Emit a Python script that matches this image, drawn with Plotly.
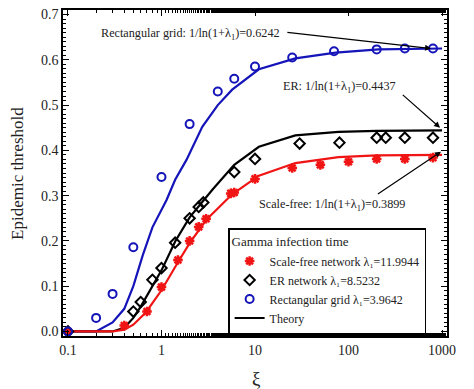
import plotly.graph_objects as go

# ---- data ----
rg_x = [0.1, 0.2, 0.3, 0.5, 1, 2, 4, 6, 10, 25, 70, 200, 400, 800]
rg_y = [0.0, 0.03, 0.083, 0.186, 0.341, 0.458, 0.530, 0.558, 0.585, 0.605, 0.619, 0.623, 0.625, 0.625]

er_x = [0.1, 0.5, 0.6, 0.8, 1, 1.4, 2, 2.5, 2.8, 6, 10, 30, 80, 200, 250, 400, 800]
er_y = [0.0, 0.044, 0.065, 0.114, 0.140, 0.196, 0.250, 0.275, 0.285, 0.352, 0.381, 0.415, 0.417, 0.428, 0.428, 0.428, 0.428]

sf_x = [0.1, 0.4, 0.7, 1, 1.5, 2, 2.5, 3, 5.5, 6, 10, 25, 50, 100, 200, 400, 800]
sf_y = [0.0, 0.013, 0.044, 0.098, 0.158, 0.200, 0.231, 0.249, 0.305, 0.307, 0.337, 0.361, 0.368, 0.375, 0.381, 0.381, 0.384]

# theory curves
th_rg_x = [0.1, 0.2, 0.3, 0.4, 0.5, 0.63, 0.8, 1.0, 1.13, 1.4, 1.85, 2.73, 4, 5.7, 7, 11, 27, 73, 210, 1000]
th_rg_y = [0.0, 0.0, 0.02, 0.05, 0.10, 0.168, 0.23, 0.27, 0.29, 0.335, 0.379, 0.452, 0.50, 0.534, 0.548, 0.579, 0.603, 0.616, 0.623, 0.625]

th_er_x = [0.1, 0.3, 0.4, 0.5, 0.6, 0.84, 1.0, 1.41, 2, 3.5, 6, 11, 27, 78, 200, 1000]
th_er_y = [0.0, 0.0, 0.008, 0.03, 0.055, 0.106, 0.135, 0.200, 0.252, 0.313, 0.368, 0.408, 0.433, 0.441, 0.443, 0.444]

th_sf_x = [0.1, 0.3, 0.4, 0.5, 0.68, 1.0, 1.5, 2, 3, 5.7, 11, 27, 78, 200, 1000]
th_sf_y = [0.0, 0.0, 0.004, 0.015, 0.042, 0.091, 0.153, 0.195, 0.246, 0.303, 0.344, 0.372, 0.385, 0.389, 0.390]

BLUE = "rgb(20,20,185)"
RED = "rgb(240,20,20)"
FONT = "Liberation Serif"
TXT = "#222"

fig = go.Figure()

fig.add_trace(go.Scatter(x=th_rg_x, y=th_rg_y, mode="lines", line=dict(color=BLUE, width=2.2), showlegend=False))
fig.add_trace(go.Scatter(x=th_er_x, y=th_er_y, mode="lines", line=dict(color="black", width=2.2), showlegend=False))
fig.add_trace(go.Scatter(x=th_sf_x, y=th_sf_y, mode="lines", line=dict(color=RED, width=2.2), showlegend=False))

fig.add_trace(go.Scatter(x=sf_x, y=sf_y, mode="markers", name="Scale-free network λ₁=11.9944",
                         marker=dict(symbol="asterisk-open", size=8, color=RED, line=dict(color=RED, width=2.5))))
fig.add_trace(go.Scatter(x=er_x, y=er_y, mode="markers", name="ER network λ₁=8.5232",
                         marker=dict(symbol="diamond-open", size=8, color="black", line=dict(color="black", width=2))))
fig.add_trace(go.Scatter(x=rg_x, y=rg_y, mode="markers", name="Rectangular grid λ₁=3.9642",
                         marker=dict(symbol="circle-open", size=8, color=BLUE, line=dict(color=BLUE, width=2))))
fig.add_trace(go.Scatter(x=[None], y=[None], mode="lines", name="Theory", line=dict(color="black", width=2)))

ann_font = dict(family=FONT, size=12.2, color=TXT)
annotations = [
    dict(x=0.309, y=0.656, xref="x", yref="y", text="Rectangular grid: 1/ln(1+λ<sub>1</sub>)=0.6242",
         showarrow=False, font=ann_font, xanchor="center", yanchor="middle"),
    dict(x=1.904, y=0.541, xref="x", yref="y", text="ER: 1/ln(1+λ<sub>1</sub>)=0.4437",
         showarrow=False, font=ann_font, xanchor="center", yanchor="middle"),
    dict(x=1.819, y=0.279, xref="x", yref="y", text="Scale-free: 1/ln(1+λ<sub>1</sub>)=0.3899",
         showarrow=False, font=ann_font, xanchor="center", yanchor="middle"),
    dict(x=2.883, y=0.625, ax=1.33, ay=0.661, xref="x", yref="y", axref="x", ayref="y", text="",
         showarrow=True, arrowhead=2, arrowsize=1, arrowwidth=1.2, arrowcolor="black"),
    dict(x=2.979, y=0.450, ax=2.564, ay=0.5255, xref="x", yref="y", axref="x", ayref="y", text="",
         showarrow=True, arrowhead=2, arrowsize=1, arrowwidth=1.2, arrowcolor="black"),
    dict(x=2.989, y=0.397, ax=2.298, ay=0.3016, xref="x", yref="y", axref="x", ayref="y", text="",
         showarrow=True, arrowhead=2, arrowsize=1, arrowwidth=1.2, arrowcolor="black"),
    dict(x=-0.12, y=0.5, xref="paper", yref="paper", text="Epidemic threshold", textangle=-90,
         showarrow=False, font=dict(family=FONT, size=17, color=TXT), xanchor="center", yanchor="middle"),
    dict(x=0.503, y=-0.129, xref="paper", yref="paper", text="ξ",
         showarrow=False, font=dict(family=FONT, size=19, color=TXT), xanchor="center", yanchor="middle"),
]

axis_common = dict(showline=True, linecolor="black", linewidth=1.5, mirror="allticks",
                   ticks="inside", ticklen=6, tickwidth=1.2, tickcolor="black",
                   showgrid=False, zeroline=False, automargin=False,
                   ticklabeloverflow="allow",
                   tickfont=dict(family=FONT, size=14, color=TXT))

fig.update_layout(
    width=474, height=389,
    margin=dict(l=55, r=35, t=2, b=61),
    paper_bgcolor="white", plot_bgcolor="white",
    font=dict(family=FONT, color=TXT),
    xaxis=dict(type="log", range=[-1.053, 3.053],
               tickvals=[0.1, 1, 10, 100, 1000], ticktext=["0.1", "1", "10", "100", "1000"],
               minor=dict(ticks="inside", ticklen=3, tickwidth=1, tickcolor="black", showgrid=False),
               **axis_common),
    yaxis=dict(range=[-0.01, 0.71], dtick=0.1, tick0=0, tickformat=".1f",
               minor=dict(ticks="inside", ticklen=3, tickwidth=1, tickcolor="black", dtick=0.01, showgrid=False),
               **axis_common),
    legend=dict(x=0.43, y=0.331, xanchor="left", yanchor="top",
                bordercolor="black", borderwidth=1.5, bgcolor="white",
                title=dict(text="Gamma infection time", font=dict(family=FONT, size=13, color=TXT)),
                font=dict(family=FONT, size=12, color=TXT),
                itemwidth=30, tracegroupgap=0),
    annotations=annotations,
)

fig.write_html("out.html")
